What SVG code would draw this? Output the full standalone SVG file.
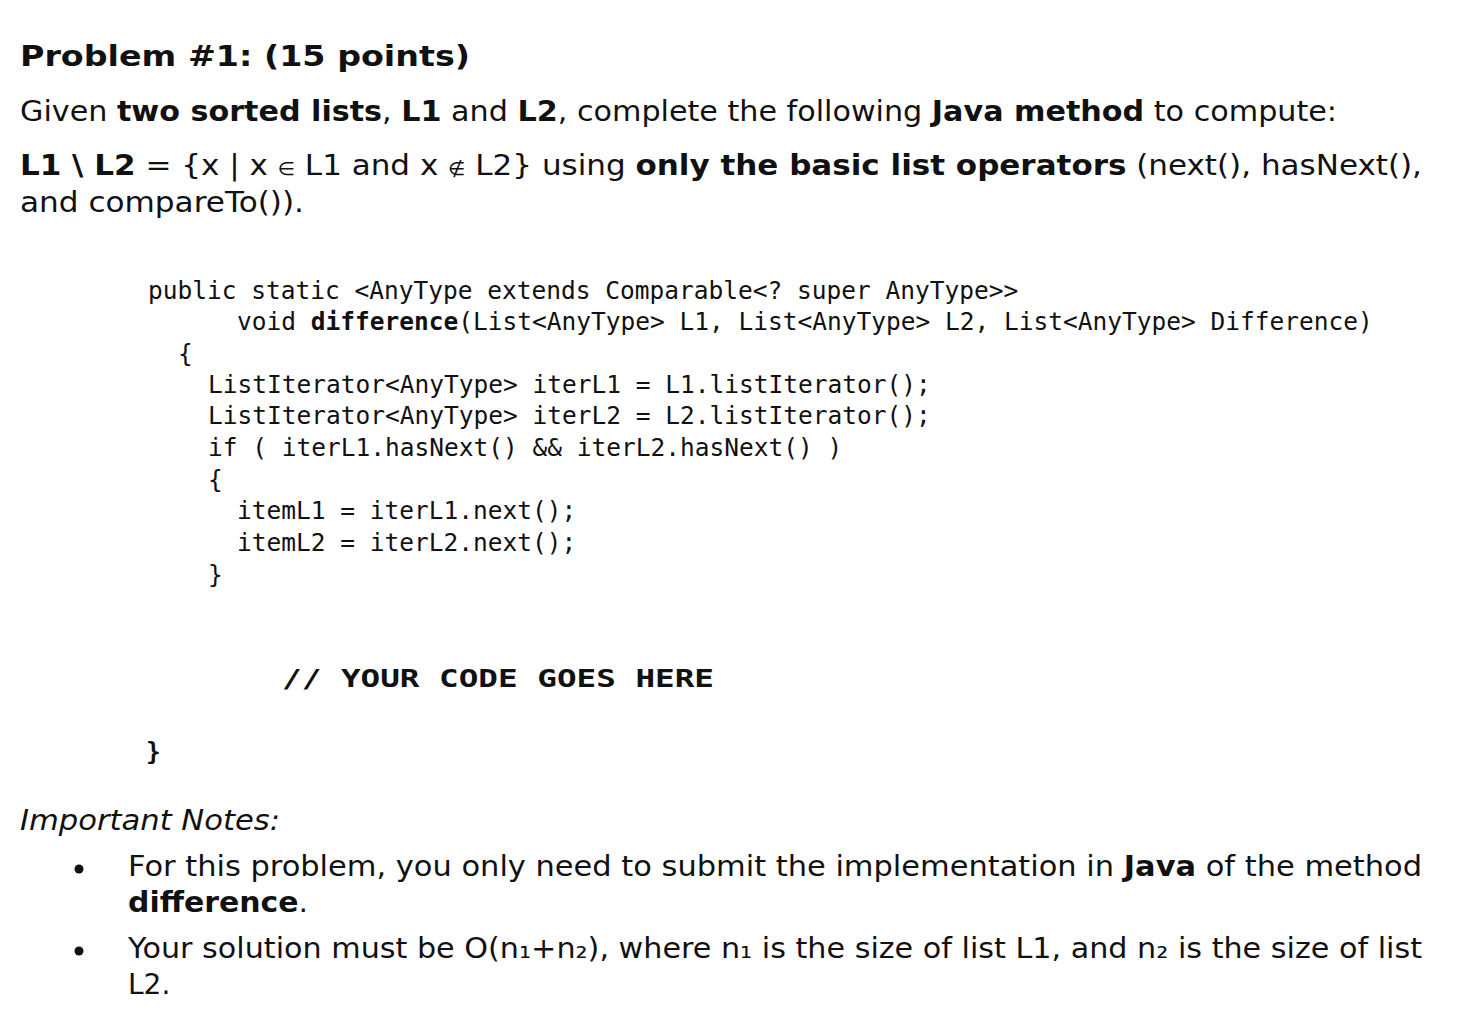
<svg xmlns="http://www.w3.org/2000/svg" width="1463" height="1011" viewBox="0 0 1463 1011">
<style>
.t{font-family:"DejaVu Sans","Verdana",sans-serif;font-size:28px;fill:#111}
.c{font-family:"DejaVu Sans Mono","Liberation Mono",monospace;font-size:24.5px;fill:#111}
.b{font-weight:bold}
</style>
<rect width="1463" height="1011" fill="#fff"/>
<g id="header">
<text class="t b" x="20" y="66" font-size="30" textLength="450" lengthAdjust="spacingAndGlyphs">Problem #1: (15 points)</text>
<text class="t" x="20" y="121" textLength="1317" lengthAdjust="spacingAndGlyphs">Given <tspan class="b">two sorted lists</tspan>, <tspan class="b">L1</tspan> and <tspan class="b">L2</tspan>, complete the following <tspan class="b">Java method</tspan> to compute:</text>
<text class="t" x="20" y="175" textLength="1402" lengthAdjust="spacingAndGlyphs"><tspan class="b">L1 \ L2</tspan> = {x | x <tspan font-size="18">∈</tspan> L1 and x <tspan font-size="18">∉</tspan> L2} using <tspan class="b">only the basic list operators</tspan> (next(), hasNext(),</text>
<text class="t" x="20" y="212" textLength="284" lengthAdjust="spacingAndGlyphs">and compareTo()).</text>
</g>
<g id="code">
<text class="c" x="148" y="299">public static &lt;AnyType extends Comparable&lt;? super AnyType&gt;&gt;</text>
<text class="c" x="237" y="330">void <tspan class="b">difference</tspan>(List&lt;AnyType&gt; L1, List&lt;AnyType&gt; L2, List&lt;AnyType&gt; Difference)</text>
<text class="c" x="178" y="362">{</text>
<text class="c" x="208" y="393">ListIterator&lt;AnyType&gt; iterL1 = L1.listIterator();</text>
<text class="c" x="208" y="424">ListIterator&lt;AnyType&gt; iterL2 = L2.listIterator();</text>
<text class="c" x="208" y="456">if ( iterL1.hasNext() &amp;&amp; iterL2.hasNext() )</text>
<text class="c" x="208" y="488">{</text>
<text class="c" x="237" y="519">itemL1 = iterL1.next();</text>
<text class="c" x="237" y="551">itemL2 = iterL2.next();</text>
<text class="c" x="208" y="583">}</text>
<text class="c b" x="282" y="687" font-size="30" textLength="432" lengthAdjust="spacingAndGlyphs">// YOUR CODE GOES HERE</text>
<text class="c b" x="146" y="760">}</text>
</g>
<g id="notes">
<text class="t" x="20" y="830" font-style="italic" textLength="260" lengthAdjust="spacingAndGlyphs">Important Notes:</text>
<circle cx="79" cy="869" r="4.5" fill="#111"/>
<circle cx="79" cy="951" r="4.5" fill="#111"/>
<text class="t" x="128" y="876" textLength="1294" lengthAdjust="spacingAndGlyphs">For this problem, you only need to submit the implementation in <tspan class="b">Java</tspan> of the method</text>
<text class="t b" x="128" y="912" textLength="180" lengthAdjust="spacingAndGlyphs">difference<tspan font-weight="normal">.</tspan></text>
<text class="t" x="128" y="958" textLength="1294" lengthAdjust="spacingAndGlyphs">Your solution must be O(n₁+n₂), where n₁ is the size of list L1, and n₂ is the size of list</text>
<text class="t" x="128" y="994">L2.</text>
</g>
</svg>
